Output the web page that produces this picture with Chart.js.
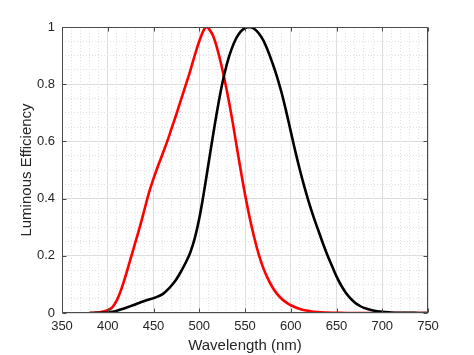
<!DOCTYPE html>
<html>
<head>
<meta charset="utf-8">
<script src="https://cdn.jsdelivr.net/npm/chart.js@4"></script>
<style>
  html, body { margin: 0; padding: 0; background: #ffffff; }
  canvas { display: block; }
</style>
</head>
<body>
<canvas id="c" width="474" height="355"></canvas>
<script>
// ---- Data ----
const redWavelengths = [380,385,390,395,400,405,410,415,420,425,430,435,440,445,450,455,460,465,470,475,480,485,490,495,500,505,508,510,515,520,525,530,535,540,545,550,555,560,565,570,575,580,585,590,595,600,610,620,630,640,650,660,680,700,720,750];
const redEfficiency  = [0,0.001,0.002,0.005,0.01,0.02,0.045,0.085,0.135,0.19,0.245,0.30,0.36,0.42,0.47,0.515,0.557,0.60,0.648,0.695,0.745,0.795,0.845,0.90,0.95,0.99,1.0,0.996,0.97,0.92,0.855,0.78,0.695,0.60,0.505,0.415,0.335,0.265,0.205,0.157,0.12,0.09,0.067,0.05,0.037,0.027,0.014,0.007,0.003,0.0015,0.0006,0.0002,0,0,0,0];

const blackWavelengths = [380,390,400,405,410,415,420,425,430,435,440,445,450,455,460,465,470,475,480,485,490,495,500,505,510,515,520,525,530,535,540,545,550,555,560,565,570,575,580,585,590,595,600,605,610,615,620,625,630,635,640,645,650,655,660,665,670,675,680,690,700,710,720,730,740,750];
const blackEfficiency  = [0,0.0005,0.002,0.004,0.008,0.013,0.018,0.024,0.03,0.036,0.042,0.047,0.052,0.058,0.066,0.08,0.097,0.118,0.145,0.175,0.21,0.26,0.33,0.42,0.52,0.62,0.715,0.80,0.868,0.92,0.958,0.983,0.996,1.0,0.994,0.978,0.953,0.917,0.874,0.826,0.77,0.705,0.635,0.565,0.50,0.44,0.385,0.335,0.29,0.245,0.203,0.165,0.128,0.097,0.072,0.052,0.037,0.026,0.018,0.009,0.004,0.002,0.001,0.0005,0.0002,0];

const xMin = 350, xMax = 750, xMajorStep = 50, xMinorStep = 10;
const yMin = 0, yMax = 1, yMajorStep = 0.2, yMinorStep = 0.05;
const xTitle = 'Wavelength (nm)';
const yTitle = 'Luminous Efficiency';

// ---- Layout constants ----
const PLOT_LEFT = 62, PLOT_RIGHT = 428, PLOT_TOP = 27, PLOT_BOTTOM = 313;
const W = 474, H = 355;

const toPts = (xs, ys) => xs.map((x, i) => ({x: x, y: ys[i]}));

const tickFont = {family: "'Liberation Sans', Arial, sans-serif", size: 13};
const titleFont = {family: "'Liberation Sans', Arial, sans-serif", size: 15};
const textColor = '#262626';

const boxPlugin = {
  id: 'boxPlugin',
  afterDraw(chart) {
    const ctx = chart.ctx;
    const a = chart.chartArea;
    const xs = chart.scales.x, ys = chart.scales.y;
    ctx.save();
    ctx.strokeStyle = '#4a4a4a';
    ctx.lineWidth = 1;
    const L = Math.round(a.left) + 0.5, R = Math.round(a.right) - 0.5;
    const T = Math.round(a.top) + 0.5, B = Math.round(a.bottom) - 0.5;
    ctx.beginPath();
    ctx.rect(L, T, R - L, B - T);
    ctx.stroke();
    const tl = 4;
    ctx.beginPath();
    xs.ticks.forEach(t => {
      const px = Math.round(xs.getPixelForValue(t.value)) + 0.5;
      ctx.moveTo(px, B); ctx.lineTo(px, B - tl);
      ctx.moveTo(px, T); ctx.lineTo(px, T + tl);
    });
    ys.ticks.forEach(t => {
      const py = Math.round(ys.getPixelForValue(t.value)) + 0.5;
      ctx.moveTo(L, py); ctx.lineTo(L + tl, py);
      ctx.moveTo(R, py); ctx.lineTo(R - tl, py);
    });
    ctx.stroke();
    ctx.restore();
  }
};

new Chart(document.getElementById('c'), {
  type: 'line',
  data: {
    datasets: [
      {
        label: 'Photopic',
        data: toPts(blackWavelengths, blackEfficiency),
        borderColor: '#000000',
        borderWidth: 2.6,
        pointRadius: 0,
        fill: false,
        tension: 0.4
      },
      {
        label: 'Scotopic',
        data: toPts(redWavelengths, redEfficiency),
        borderColor: '#ff0000',
        borderWidth: 2.6,
        pointRadius: 0,
        fill: false,
        tension: 0.4
      }
    ]
  },
  options: {
    responsive: false,
    animation: false,
    events: [],
    layout: { padding: { top: PLOT_TOP, right: W - PLOT_RIGHT, left: 0, bottom: 0 } },
    plugins: { legend: { display: false }, tooltip: { enabled: false } },
    scales: {
      x: {
        type: 'linear', position: 'bottom', min: xMin, max: xMax,
        ticks: { stepSize: xMajorStep, font: tickFont, color: textColor, padding: 6, maxRotation: 0 },
        grid: { color: '#dcdcdc', lineWidth: 1, drawTicks: false },
        border: { display: false },
        title: { display: true, text: xTitle, font: titleFont, color: textColor, padding: {top: 0, bottom: 0} },
        afterFit(s) { s.height = H - PLOT_BOTTOM; }
      },
      y: {
        type: 'linear', position: 'left', min: yMin, max: yMax,
        ticks: { stepSize: yMajorStep, font: tickFont, color: textColor, padding: 7,
                 callback: v => String(Math.round(v * 10) / 10) },
        grid: { color: '#dcdcdc', lineWidth: 1, drawTicks: false },
        border: { display: false },
        title: { display: true, text: yTitle, font: titleFont, color: textColor, padding: {top: 18, bottom: 0} },
        afterFit(s) { s.width = PLOT_LEFT; }
      },
      xMinor: {
        type: 'linear', position: 'bottom', min: xMin, max: xMax, z: -1,
        ticks: { stepSize: xMinorStep, display: false },
        grid: { color: '#e0e0e0', lineWidth: 1, drawTicks: false },
        border: { display: false, dash: [1, 2] },
        afterFit(s) { s.height = 0; }
      },
      yMinor: {
        type: 'linear', position: 'left', min: yMin, max: yMax, z: -1,
        ticks: { stepSize: yMinorStep, display: false },
        grid: { color: '#e0e0e0', lineWidth: 1, drawTicks: false },
        border: { display: false, dash: [1, 2] },
        afterFit(s) { s.width = 0; }
      }
    }
  },
  plugins: [boxPlugin]
});
</script>
</body>
</html>
